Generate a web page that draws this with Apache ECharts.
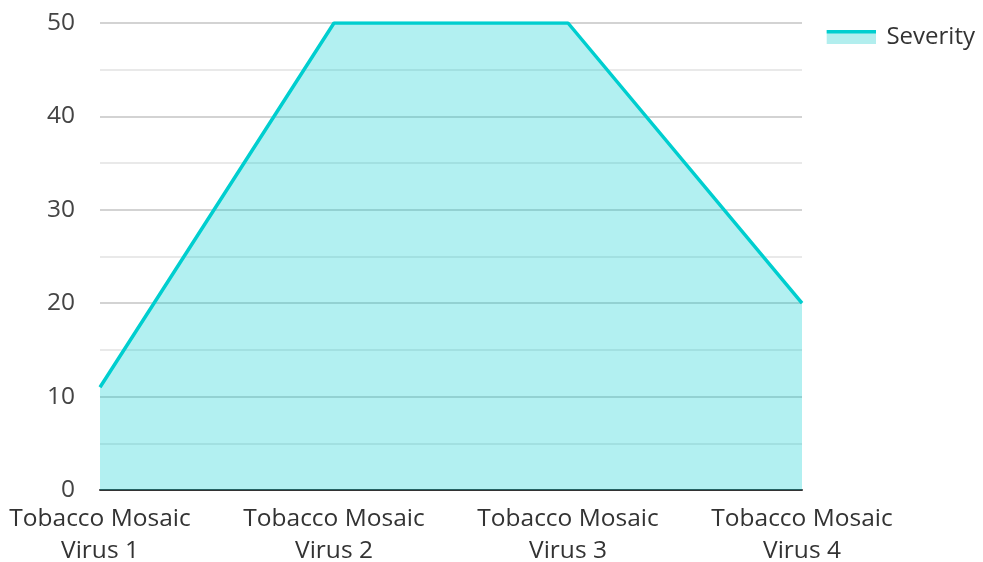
<!DOCTYPE html>
<html>
<head>
<meta charset="utf-8">
<script src="https://cdn.jsdelivr.net/npm/echarts@6/dist/echarts.min.js"></script>
<style>
  html, body { margin: 0; padding: 0; background: #fff; overflow: hidden; }
  #chart { width: 983px; height: 562px; }
</style>
</head>
<body>
<div id="chart"></div>
<script>
const categories = [
  'Tobacco Mosaic\nVirus 1',
  'Tobacco Mosaic\nVirus 2',
  'Tobacco Mosaic\nVirus 3',
  'Tobacco Mosaic\nVirus 4'
];
const severity = [11, 50, 50, 20];
const seriesName = 'Severity';

const lineColor = '#00cecf';
const font = '"Open Sans", "Noto Sans", sans-serif';

// legend swatch: a thick line over a pale area block
const legendIcon = 'image://data:image/svg+xml;utf8,' + encodeURIComponent(
  '<svg xmlns="http://www.w3.org/2000/svg" width="50" height="14">' +
  '<rect x="0" y="0" width="50" height="14" fill="#b2eeee"/>' +
  '<rect x="0" y="0" width="50" height="3.5" fill="' + lineColor + '"/>' +
  '</svg>'
);

const chart = echarts.init(document.getElementById('chart'), null, { renderer: 'canvas' });
chart.setOption({
  animation: false,
  textStyle: { fontFamily: font },
  legend: {
    show: true,
    right: 3,
    top: 20,
    itemWidth: 50,
    itemHeight: 14,
    itemGap: 10,
    data: [{ name: seriesName, icon: legendIcon }],
    textStyle: { fontSize: 24, color: '#333', fontFamily: font, padding: [0, 0, 0, 5] }
  },
  grid: {
    left: 100, right: 181, top: 23, height: 467,
    containLabel: false,
    outerBoundsMode: 'none'
  },
  xAxis: {
    type: 'category',
    data: categories,
    boundaryGap: false,
    axisLine: { show: true, lineStyle: { color: '#333', width: 2 } },
    axisTick: { show: false },
    splitLine: { show: false },
    axisLabel: {
      interval: 0,
      hideOverlap: false,
      fontSize: 24.5,
      color: '#333',
      lineHeight: 32,
      margin: 13,
      fontFamily: font
    }
  },
  yAxis: {
    type: 'value',
    min: 0,
    max: 50,
    interval: 10,
    axisLine: { show: false },
    axisTick: { show: false },
    axisLabel: { fontSize: 24.5, color: '#444', margin: 25, fontFamily: font },
    splitLine: { show: true, lineStyle: { color: '#c4c4c4', width: 1.5 } },
    minorTick: { show: false, splitNumber: 2 },
    minorSplitLine: { show: true, lineStyle: { color: '#e2e2e2', width: 1.5 } }
  },
  series: [{
    name: seriesName,
    type: 'line',
    data: severity,
    showSymbol: false,
    symbol: 'none',
    lineStyle: { color: lineColor, width: 3.5 },
    itemStyle: { color: lineColor },
    areaStyle: { color: lineColor, opacity: 0.3 }
  }]
});
</script>
</body>
</html>
